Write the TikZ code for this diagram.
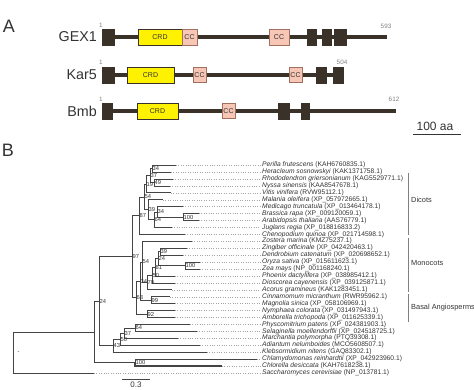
\documentclass[tikz,border=0pt]{standalone}
\usepackage{fontspec}
\setmainfont{Liberation Sans}
\definecolor{domdark}{HTML}{3A3228}
\definecolor{crdyellow}{HTML}{FFF200}
\definecolor{ccpink}{HTML}{F7C6B4}
\definecolor{ccedge}{HTML}{A07060}
\definecolor{txtgray}{HTML}{333333}
\definecolor{treeline}{HTML}{444444}
\begin{document}
\begin{tikzpicture}[
    x=1pt, y=-1pt,
    panel/.style={font=\fontsize{18}{20}\selectfont, text=txtgray, inner sep=0pt},
    protname/.style={anchor=east, font=\fontsize{14.3}{16}\selectfont, text=txtgray, inner sep=0pt},
    backbone/.style={draw=domdark, line width=3.6pt},
    blockbox/.style={draw=domdark, fill=domdark, minimum height=16pt, inner sep=0pt},
    crdbox/.style={draw=domdark, fill=crdyellow, minimum height=16pt, inner sep=0pt,
        font=\fontsize{7}{8}\selectfont, text=txtgray},
    ccbox/.style={draw=ccedge, fill=ccpink, minimum height=15pt, inner sep=0pt,
        font=\fontsize{7}{8}\selectfont, text=txtgray},
    aanum/.style={font=\fontsize{6.3}{7}\selectfont, text=gray, inner sep=0pt},
    branch/.style={draw=treeline, line width=0.6pt},
    leafdots/.style={draw=gray!70, dotted, line width=0.4pt, shorten >=1.5pt},
    leaf/.style={anchor=west, inner sep=0pt, font=\fontsize{6.7}{7}\selectfont, text=txtgray},
    bs/.style={anchor=west, inner sep=0.4pt, font=\fontsize{5.8}{6}\selectfont, text=txtgray},
    clade/.style={anchor=west, inner sep=0pt, font=\fontsize{7.4}{8}\selectfont, text=txtgray},
    bracket/.style={draw=gray, line width=0.5pt}
]
    \useasboundingbox (0,0) rectangle (474,389);

    % ==========================================
    % PANEL A: DOMAIN MAPS
    % ==========================================

    \node[panel] (PanelA) at (9,26) {A};

    % GEX1
    \node[protname] (GexName) at (97,37) {GEX1};
    \coordinate (GexS) at (102,37);
    \coordinate (GexE) at (387,37);
    \draw[backbone] (GexS) -- (GexE);
    \node[blockbox, minimum width=12pt] (GexB1) at (108,37) {};
    \node[crdbox, minimum width=44pt] (GexCRD) at (160,37) {CRD};
    \node[ccbox, minimum width=15pt, minimum height=16pt] (GexCC1) at (189.5,37) {CC};
    \node[ccbox, minimum width=20pt, minimum height=16pt] (GexCC2) at (279,37) {CC};
    \node[blockbox, minimum width=9pt] (GexB2) at (311.5,37) {};
    \node[blockbox, minimum width=9pt] (GexB3) at (326.5,37) {};
    \node[blockbox, minimum width=12pt] (GexB4) at (340,37) {};
    \node[aanum] (GexFirst) at (101,25) {1};
    \node[aanum] (GexLast) at (386,26) {593};

    % Kar5
    \node[protname] (KarName) at (97,75) {Kar5};
    \coordinate (KarS) at (102,75);
    \coordinate (KarE) at (343,75);
    \draw[backbone] (KarS) -- (KarE);
    \node[blockbox, minimum width=12pt] (KarB1) at (108,75) {};
    \node[crdbox, minimum width=47pt] (KarCRD) at (150.5,75) {CRD};
    \node[ccbox, minimum width=13pt] (KarCC1) at (199.5,75) {CC};
    \node[ccbox, minimum width=13pt] (KarCC2) at (295.5,75) {CC};
    \node[blockbox, minimum width=10pt] (KarB2) at (321,75) {};
    \node[blockbox, minimum width=10pt] (KarB3) at (338,75) {};
    \node[aanum] (KarFirst) at (101,62) {1};
    \node[aanum] (KarLast) at (342,62) {504};

    % Bmb
    \node[protname] (BmbName) at (97,111) {Bmb};
    \coordinate (BmbS) at (102,111);
    \coordinate (BmbE) at (396,111);
    \draw[backbone] (BmbS) -- (BmbE);
    \node[blockbox, minimum width=10pt] (BmbB1) at (107,111) {};
    \node[crdbox, minimum width=41pt] (BmbCRD) at (157.5,111) {CRD};
    \node[ccbox, minimum width=13pt] (BmbCC1) at (228.5,111) {CC};
    \node[blockbox, minimum width=11pt] (BmbB2) at (283.5,111) {};
    \node[blockbox, minimum width=8pt] (BmbB3) at (305,111) {};
    \node[aanum] (BmbFirst) at (101,99) {1};
    \node[aanum] (BmbLast) at (394,99) {612};

    % scale bar (100 aa)
    \node[font=\fontsize{12}{13}\selectfont, text=txtgray, inner sep=0pt] (AaText) at (435,126) {100 aa};
    \coordinate (AaL) at (413,134);
    \coordinate (AaR) at (461,134);
    \draw[draw=txtgray, line width=0.8pt] (AaL) -- (AaR);

    % ==========================================
    % PANEL B: TREE
    % ==========================================

    \node[panel] (PanelB) at (8,150) {B};

    % internal nodes
    \coordinate (nRoot) at (13,352.4);
    \coordinate (nAll) at (94,331.8);
    \coordinate (n24) at (99,301.1);
    \coordinate (n97) at (132,256.6);
    \coordinate (n87) at (139,215.6);
    \coordinate (n54a) at (144,196.9);
    \coordinate (n19) at (146,184.1);
    \coordinate (n37a) at (150,175.4);
    \coordinate (n34a) at (152,168.5);
    \coordinate (n49) at (154,182.4);
    \coordinate (n39) at (148,209.7);
    \coordinate (n64a) at (154,219.6);
    \coordinate (n34b) at (157,211.8);
    \coordinate (n100a) at (183,217.0);
    \coordinate (n63) at (136,297.5);
    \coordinate (n34m) at (140,281.0);
    \coordinate (n54m) at (142,261.8);
    \coordinate (n70) at (147,282.4);
    \coordinate (n50m) at (152,275.1);
    \coordinate (n81) at (155,267.3);
    \coordinate (n24m) at (158,258.6);
    \coordinate (n39m) at (160,251.7);
    \coordinate (n100m) at (185,265.5);
    \coordinate (n99) at (151,300.2);
    \coordinate (n92) at (147,314.0);
    \coordinate (n43) at (113,345.6);
    \coordinate (n50b) at (120,339.1);
    \coordinate (n37b) at (124,333.1);
    \coordinate (n64b) at (135,327.9);
    \coordinate (n100c) at (135,362.5);

    % leaf tips
    \coordinate (tPerilla) at (176,165.0);
    \coordinate (tHeracleum) at (171,171.9);
    \coordinate (tRhodo) at (173,178.9);
    \coordinate (tNyssa) at (170,185.8);
    \coordinate (tVitis) at (171,192.7);
    \coordinate (tMalania) at (163,199.7);
    \coordinate (tMedicago) at (183,206.6);
    \coordinate (tBrassica) at (199,213.5);
    \coordinate (tArabid) at (199,220.4);
    \coordinate (tJuglans) at (172,227.4);
    \coordinate (tCheno) at (185,234.3);
    \coordinate (tZostera) at (192,241.2);
    \coordinate (tZingiber) at (187,248.2);
    \coordinate (tDendro) at (183,255.1);
    \coordinate (tOryza) at (200,262.0);
    \coordinate (tZea) at (200,268.9);
    \coordinate (tPhoenix) at (175,275.9);
    \coordinate (tDiosc) at (175,282.8);
    \coordinate (tAcorus) at (172,289.7);
    \coordinate (tCinna) at (170,296.7);
    \coordinate (tMagnolia) at (175,303.6);
    \coordinate (tNymph) at (175,310.5);
    \coordinate (tAmbo) at (175,317.5);
    \coordinate (tPhysco) at (190,324.4);
    \coordinate (tSelag) at (197,331.3);
    \coordinate (tMarch) at (178,338.2);
    \coordinate (tAdiant) at (200,345.2);
    \coordinate (tKlebs) at (207,352.1);
    \coordinate (tChlamy) at (257,359.0);
    \coordinate (tChlor) at (222,366.0);
    \coordinate (tSacch) at (94,372.9);

    % leaf labels
    \node[leaf] (Perilla) at (262,165.0) {\textit{Perilla frutescens} (KAH6760835.1)};
    \node[leaf] (Heracleum) at (262,171.9) {\textit{Heracleum sosnowskyi} (KAK1371758.1)};
    \node[leaf] (Rhodo) at (262,178.9) {\textit{Rhododendron griersonianum} (KAG5529771.1)};
    \node[leaf] (Nyssa) at (262,185.8) {\textit{Nyssa sinensis} (KAA8547678.1)};
    \node[leaf] (Vitis) at (262,192.7) {\textit{Vitis vinifera} (RVW95112.1)};
    \node[leaf] (Malania) at (262,199.7) {\textit{Malania oleifera} (XP\_057972665.1)};
    \node[leaf] (Medicago) at (262,206.6) {\textit{Medicago truncatula} (XP\_013464178.1)};
    \node[leaf] (Brassica) at (262,213.5) {\textit{Brassica rapa} (XP\_009120059.1)};
    \node[leaf] (Arabid) at (262,220.4) {\textit{Arabidopsis thaliana} (AAS76779.1)};
    \node[leaf] (Juglans) at (262,227.4) {\textit{Juglans regia} (XP\_018816833.2)};
    \node[leaf] (Cheno) at (262,234.3) {\textit{Chenopodium quinoa} (XP\_021714598.1)};
    \node[leaf] (Zostera) at (262,241.2) {\textit{Zostera marina} (KMZ75237.1)};
    \node[leaf] (Zingiber) at (262,248.2) {\textit{Zingiber officinale} (XP\_042420463.1)};
    \node[leaf] (Dendro) at (262,255.1) {\textit{Dendrobium catenatum} (XP\_020698652.1)};
    \node[leaf] (Oryza) at (262,262.0) {\textit{Oryza sativa} (XP\_015611623.1)};
    \node[leaf] (Zea) at (262,268.9) {\textit{Zea mays} (NP\_001168240.1)};
    \node[leaf] (Phoenix) at (262,275.9) {\textit{Phoenix dactylifera} (XP\_038985412.1)};
    \node[leaf] (Diosc) at (262,282.8) {\textit{Dioscorea cayenensis} (XP\_039125871.1)};
    \node[leaf] (Acorus) at (262,289.7) {\textit{Acorus gramineus} (KAK1283451.1)};
    \node[leaf] (Cinna) at (262,296.7) {\textit{Cinnamomum micranthum} (RWR95962.1)};
    \node[leaf] (Magnolia) at (262,303.6) {\textit{Magnolia sinica} (XP\_058106969.1)};
    \node[leaf] (Nymph) at (262,310.5) {\textit{Nymphaea colorata} (XP\_031497943.1)};
    \node[leaf] (Ambo) at (262,317.5) {\textit{Amborella trichopoda} (XP\_011625339.1)};
    \node[leaf] (Physco) at (262,324.4) {\textit{Physcomitrium patens} (XP\_024381903.1)};
    \node[leaf] (Selag) at (262,331.3) {\textit{Selaginella moellendorffii} (XP\_024518725.1)};
    \node[leaf] (March) at (262,338.2) {\textit{Marchantia polymorpha} (PTQ39308.1)};
    \node[leaf] (Adiant) at (262,345.2) {\textit{Adiantum nelumboides} (MCO5608507.1)};
    \node[leaf] (Klebs) at (262,352.1) {\textit{Klebsormidium nitens} (GAQ83302.1)};
    \node[leaf] (Chlamy) at (262,359.0) {\textit{Chlamydomonas reinhardtii} (XP\_042923960.1)};
    \node[leaf] (Chlor) at (262,366.0) {\textit{Chlorella desiccata} (KAH7618238.1)};
    \node[leaf] (Sacch) at (262,372.9) {\textit{Saccharomyces cerevisiae} (NP\_013781.1)};

    % backbone of the tree
    \draw[branch] (nRoot) |- (nAll);
    \draw[branch] (nRoot) |- (tSacch);
    \draw[branch] (nAll) |- (n24);
    \draw[branch] (nAll) |- (n100c);
    \draw[branch] (n24) |- (n97);
    \draw[branch] (n24) |- (n43);

    % angiosperms
    \draw[branch] (n97) |- (n87);
    \draw[branch] (n97) |- (n63);
    \draw[branch] (n87) |- (n54a);
    \draw[branch] (n87) |- (tCheno);
    \draw[branch] (n54a) |- (n19);
    \draw[branch] (n54a) |- (n39);
    \draw[branch] (n19) |- (n37a);
    \draw[branch] (n19) |- (tVitis);
    \draw[branch] (n37a) |- (n34a);
    \draw[branch] (n37a) |- (n49);
    \draw[branch] (n34a) |- (tPerilla);
    \draw[branch] (n34a) |- (tHeracleum);
    \draw[branch] (n49) |- (tRhodo);
    \draw[branch] (n49) |- (tNyssa);
    \draw[branch] (n39) |- (tMalania);
    \draw[branch] (n39) |- (n64a);
    \draw[branch] (n64a) |- (n34b);
    \draw[branch] (n64a) |- (tJuglans);
    \draw[branch] (n34b) |- (tMedicago);
    \draw[branch] (n34b) |- (n100a);
    \draw[branch] (n100a) |- (tBrassica);
    \draw[branch] (n100a) |- (tArabid);

    \draw[branch] (n63) |- (n34m);
    \draw[branch] (n63) |- (n92);
    \draw[branch] (n34m) |- (n54m);
    \draw[branch] (n34m) |- (n99);
    \draw[branch] (n54m) |- (tZostera);
    \draw[branch] (n54m) |- (n70);
    \draw[branch] (n70) |- (n50m);
    \draw[branch] (n70) |- (tAcorus);
    \draw[branch] (n50m) |- (n81);
    \draw[branch] (n50m) |- (tDiosc);
    \draw[branch] (n81) |- (n24m);
    \draw[branch] (n81) |- (tPhoenix);
    \draw[branch] (n24m) |- (n39m);
    \draw[branch] (n24m) |- (n100m);
    \draw[branch] (n39m) |- (tZingiber);
    \draw[branch] (n39m) |- (tDendro);
    \draw[branch] (n100m) |- (tOryza);
    \draw[branch] (n100m) |- (tZea);
    \draw[branch] (n99) |- (tCinna);
    \draw[branch] (n99) |- (tMagnolia);
    \draw[branch] (n92) |- (tNymph);
    \draw[branch] (n92) |- (tAmbo);

    % land plants outside the seed plants, algae
    \draw[branch] (n43) |- (n50b);
    \draw[branch] (n43) |- (tKlebs);
    \draw[branch] (n50b) |- (n37b);
    \draw[branch] (n50b) |- (tAdiant);
    \draw[branch] (n37b) |- (n64b);
    \draw[branch] (n37b) |- (tMarch);
    \draw[branch] (n64b) |- (tPhysco);
    \draw[branch] (n64b) |- (tSelag);
    \draw[branch] (n100c) |- (tChlamy);
    \draw[branch, line width=1.1pt] (n100c) |- (tChlor);

    % dotted leaders
    \foreach \t/\l in {tPerilla/Perilla, tHeracleum/Heracleum, tRhodo/Rhodo, tNyssa/Nyssa,
        tVitis/Vitis, tMalania/Malania, tMedicago/Medicago, tBrassica/Brassica, tArabid/Arabid,
        tJuglans/Juglans, tCheno/Cheno, tZostera/Zostera, tZingiber/Zingiber, tDendro/Dendro,
        tOryza/Oryza, tZea/Zea, tPhoenix/Phoenix, tDiosc/Diosc, tAcorus/Acorus, tCinna/Cinna,
        tMagnolia/Magnolia, tNymph/Nymph, tAmbo/Ambo, tPhysco/Physco, tSelag/Selag,
        tMarch/March, tAdiant/Adiant, tKlebs/Klebs, tChlamy/Chlamy, tChlor/Chlor, tSacch/Sacch}
        \draw[leafdots] (\t) -- (\l.west);

    % support values
    \node[bs] (bs34a) at (n34a) {34};
    \node[bs] (bs49) at (n49) {49};
    \node[bs] (bs37a) at (n37a) {37};
    \node[bs] (bs19) at (n19) {19};
    \node[bs] (bs54a) at (n54a) {54};
    \node[bs] (bs39) at (n39) {39};
    \node[bs] (bs64a) at (n64a) {64};
    \node[bs] (bs34b) at (n34b) {34};
    \node[bs] (bs100a) at (n100a) {100};
    \node[bs] (bs87) at (n87) {87};
    \node[bs] (bs97) at (n97) {97};
    \node[bs] (bs39m) at (n39m) {39};
    \node[bs] (bs24m) at (n24m) {24};
    \node[bs] (bs100m) at (n100m) {100};
    \node[bs] (bs81) at (n81) {81};
    \node[bs] (bs50m) at (n50m) {50};
    \node[bs] (bs70) at (n70) {70};
    \node[bs] (bs54m) at (n54m) {54};
    \node[bs] (bs34m) at (n34m) {34};
    \node[bs] (bs99) at (n99) {99};
    \node[bs] (bs92) at (n92) {92};
    \node[bs] (bs63) at (n63) {63};
    \node[bs] (bs24) at (n24) {24};
    \node[bs] (bs64b) at (n64b) {64};
    \node[bs] (bs37b) at (n37b) {37};
    \node[bs] (bs50b) at (n50b) {50};
    \node[bs] (bs43) at (n43) {43};
    \node[bs] (bs100c) at (n100c) {100};
    \node[bs] (bsRoot) at (17,352.4) {-};

    % clade brackets
    \coordinate (DicTop) at (408,173);
    \coordinate (DicBot) at (408,235);
    \coordinate (MonTop) at (408,238);
    \coordinate (MonBot) at (408,292);
    \coordinate (BasTop) at (408,294);
    \coordinate (BasBot) at (408,322);
    \draw[bracket] (DicTop) -- (DicBot);
    \draw[bracket] (MonTop) -- (MonBot);
    \draw[bracket] (BasTop) -- (BasBot);
    \node[clade] (Dicots) at (411,200) {Dicots};
    \node[clade] (Monocots) at (411,263) {Monocots};
    \node[clade] (Basal) at (411,308) {Basal Angiosperms};

    % scale bar (0.3)
    \coordinate (SbL) at (122,379);
    \coordinate (SbR) at (150,379);
    \draw[draw=treeline, line width=0.7pt] (SbL) -- (SbR);
    \node[font=\fontsize{8}{9}\selectfont, text=txtgray, inner sep=0pt] (SbText) at (136,385) {0.3};

\end{tikzpicture}
\end{document}
